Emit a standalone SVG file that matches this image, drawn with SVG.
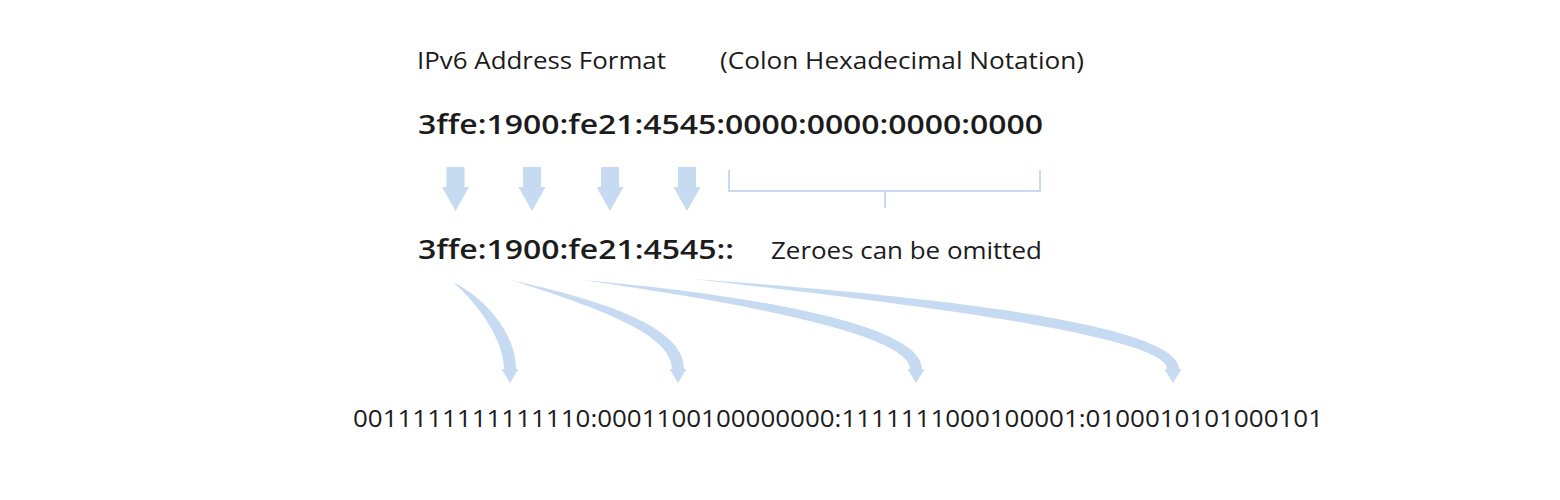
<svg xmlns="http://www.w3.org/2000/svg" width="1560" height="500" viewBox="0 0 1560 500">
<style>
.t{font-family:"Open Sans","Noto Sans","Liberation Sans",sans-serif;fill:#1c1c1c;font-size:23px}
.b{font-weight:600;font-size:27px}
.arr{fill:#c6daf2}
.br{fill:none;stroke:#c6daf2;stroke-width:2}
</style>
<rect width="1560" height="500" fill="#ffffff"/>
<g id="title">
<text class="t" x="417" y="69" textLength="249" lengthAdjust="spacingAndGlyphs">IPv6 Address Format</text>
<text class="t" x="720" y="69" textLength="364" lengthAdjust="spacingAndGlyphs">(Colon Hexadecimal Notation)</text>
</g>
<g id="full-address">
<text class="t b" x="418" y="134" textLength="625" lengthAdjust="spacingAndGlyphs">3ffe:1900:fe21:4545:0000:0000:0000:0000</text>
</g>
<g id="short-address">
<text class="t b" x="418" y="259" textLength="316" lengthAdjust="spacingAndGlyphs">3ffe:1900:fe21:4545::</text>
</g>
<g id="note">
<text class="t" x="771" y="259" textLength="271" lengthAdjust="spacingAndGlyphs">Zeroes can be omitted</text>
</g>
<g id="binary">
<text class="t" x="353" y="427" textLength="970" lengthAdjust="spacingAndGlyphs">0011111111111110:0001100100000000:1111111000100001:0100010101000101</text>
</g>
<g id="connectors">
<g id="down-arrows" class="arr">
<path d="M446.5,167 h18 v20 h4.5 l-13.5,24 l-13.5,-24 h4.5 z"/>
<path d="M523,167 h18 v20 h4.5 l-13.5,24 l-13.5,-24 h4.5 z"/>
<path d="M601,167 h18 v20 h4.5 l-13.5,24 l-13.5,-24 h4.5 z"/>
<path d="M678,167 h18 v20 h4.5 l-13.5,24 l-13.5,-24 h4.5 z"/>
</g>
<path class="br" d="M729,170 V191 H1040 V170 M885,191 V208"/>
<g id="curved-arrows" class="arr">
<path d="M453,282 C488,300 516,335 516,369 L504,369 C504,342 482,308 453,282 Z"/>
<polygon points="501.5,369 518.5,369 510,383"/>
<path d="M511,280 C603,301 684,326 684,369 L672,369 C672,334 598,308 511,280 Z"/>
<polygon points="669.5,369 686.5,369 678,383"/>
<path d="M582,280 C763,296 922,326 922,369 L910,369 C910,336 758,305 582,280 Z"/>
<polygon points="907.5,369 924.5,369 916,383"/>
<path d="M692,279 C1003,301 1179,331 1179,369 L1167,369 C1167,342 1000,313 692,279 Z"/>
<polygon points="1164.5,369 1181.5,369 1173,383"/>
</g>
</g>
</svg>
